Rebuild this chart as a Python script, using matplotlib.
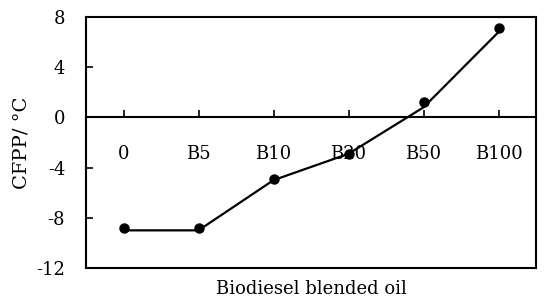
import matplotlib
matplotlib.use("Agg")
import matplotlib.pyplot as plt

categories = ["0", "B5", "B10", "B20", "B50", "B100"]
cfpp_points = [-8.8, -8.8, -4.9, -2.9, 1.2, 7.1]
cfpp_line = [-9.0, -9.0, -5.0, -2.9, 0.8, 6.8]
yticks = [-12, -8, -4, 0, 4, 8]

plt.rcParams["font.family"] = ["DejaVu Serif"]

fig = plt.figure(figsize=(5.5, 3.07), dpi=100)
ax = fig.add_axes([86/550, 1-268/307, 450/550, 251/307])

x = list(range(len(categories)))
ax.plot(x, cfpp_line, color="black", lw=1.6, zorder=2)
ax.plot(x, cfpp_points, "o", color="black", ms=6.5, zorder=3)

ax.set_xlim(-0.5, len(categories) - 0.5)
ax.set_ylim(-12, 8)
ax.set_yticks(yticks)
ax.set_yticklabels([str(v) for v in yticks], fontsize=13)
ax.tick_params(axis="y", direction="in", length=5, width=1.2, pad=15)
ax.set_xticks([])
for s in ax.spines.values():
    s.set_linewidth(1.5)

# x axis crossing at y=0
frac = (0 - (-12)) / (8 - (-12))
sec = ax.secondary_xaxis("bottom")
sec.set_location(frac)
sec.xaxis.set_ticks_position("bottom")
sec.xaxis.set_label_position("bottom")
sec.set_xticks(x)
sec.set_xticklabels(categories, fontsize=13)
sec.tick_params(axis="x", direction="in", length=5, width=1.2, pad=20)
sec.spines["bottom"].set_linewidth(1.5)

ax.set_ylabel("CFPP/ °C", fontsize=14, labelpad=4)
ax.set_xlabel("Biodiesel blended oil", fontsize=13, labelpad=9)

fig.savefig("out.png", dpi=100)
